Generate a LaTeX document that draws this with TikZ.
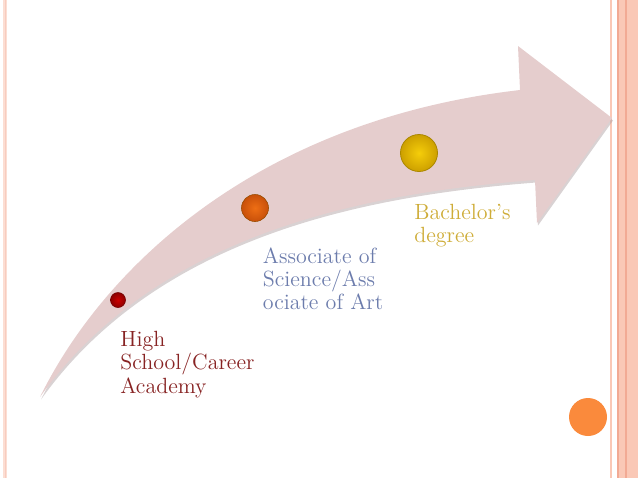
\documentclass[tikz,border=0pt]{standalone}
\usepackage{tikz}
\definecolor{freccia}{RGB}{229,205,205}
\definecolor{ombra}{RGB}{170,155,158}
\definecolor{bordo}{RGB}{250,200,182}
\definecolor{bordoscuro}{RGB}{242,170,148}
\definecolor{rosso}{RGB}{135,35,35}
\definecolor{blu}{RGB}{108,124,172}
\definecolor{oro}{RGB}{206,172,55}
\definecolor{arancio}{RGB}{250,138,60}
\newcommand{\testo}{\fontsize{11}{11.6}\selectfont}

\begin{document}
\begin{tikzpicture}[x=0.5pt, y=-0.5pt,
    punto/.style={circle, inner sep=0pt, minimum size=#1},
    etichetta/.style={anchor=north west, inner sep=0pt, align=left, font=\testo}]
    % Cornice
    \useasboundingbox (0,0) rectangle (638,478);
    \fill[bordo!60] (3,0) rectangle (7,478);
    \draw[bordoscuro!60, line width=0.4pt] (5,0) -- (5,478);
    \fill[bordo] (610,0) rectangle (612.3,478);
    \fill[bordo] (616.7,0) rectangle (638,478);
    \fill[bordoscuro] (617.3,0) rectangle (619.3,478);
    \fill[bordoscuro] (625,0) rectangle (626.7,478);
    % Freccia
    \fill[ombra, opacity=0.45, shift={(1,2.5)}] (40,397) .. controls (105,265) and (260,120) .. (520,90)
        -- (518,46) -- (612,118) -- (537,223) -- (535,180)
        .. controls (368,193) and (158,232) .. (40,397) -- cycle;
    \fill[freccia] (40,397) .. controls (105,265) and (260,120) .. (520,90)
        -- (518,46) -- (612,118) -- (537,223) -- (535,180)
        .. controls (368,193) and (158,232) .. (40,397) -- cycle;
    % Punti
    \node[punto=7.5pt, draw=red!45!black, line width=0.3pt, inner color=red!80!black, outer color=red!55!black] (liceo) at (118,300) {};
    \node[punto=13.5pt, draw=orange!60!black, line width=0.3pt, inner color={rgb,255:red,238;green,110;blue,20}, outer color={rgb,255:red,200;green,80;blue,10}] (associato) at (255,208) {};
    \node[punto=18.5pt, draw={rgb,255:red,170;green,135;blue,0}, line width=0.4pt, inner color={rgb,255:red,245;green,205;blue,10}, outer color={rgb,255:red,205;green,160;blue,0}] (laurea) at (419,153) {};
    \node[punto=19pt, fill=arancio] (cerchio) at (588,417) {};
    % Etichette
    \node[etichetta, text=rosso] (testoLiceo) at (120,331) {High\\School/Career\\Academy};
    \node[etichetta, text=blu] (testoAssociato) at (262.5,247) {Associate of\\Science/Ass\\ociate of Art};
    \node[etichetta, text=oro] (testoLaurea) at (414,204) {Bachelor's\\degree};
\end{tikzpicture}
\end{document}
